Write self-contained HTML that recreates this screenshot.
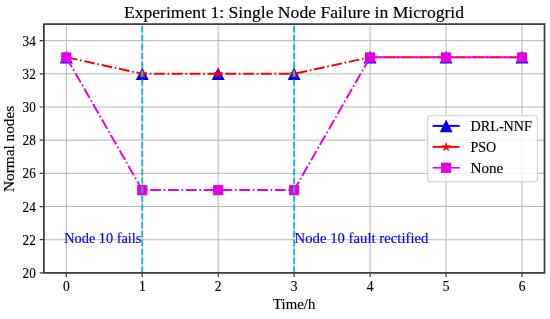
<!DOCTYPE html>
<html><head><meta charset="utf-8"><title>Experiment 1: Single Node Failure in Microgrid</title>
<style>html,body{margin:0;padding:0;background:#fff;overflow:hidden}svg{display:block}</style>
</head><body>
<svg width="550" height="319" viewBox="0 0 550 319" font-family="'Liberation Serif', 'DejaVu Serif', serif"><style>text{stroke-width:0.15px;paint-order:stroke}</style><rect width="550" height="319" fill="#fff"/><path d="M66.30 24.05V272.90M142.25 24.05V272.90M218.20 24.05V272.90M294.15 24.05V272.90M370.10 24.05V272.90M446.05 24.05V272.90M522.00 24.05V272.90M43.52 272.90H544.78M43.52 239.72H544.78M43.52 206.54H544.78M43.52 173.36H544.78M43.52 140.18H544.78M43.52 107.00H544.78M43.52 73.82H544.78M43.52 40.64H544.78" stroke="#b8b8b8" stroke-width="1.0" fill="none"/><path d="M66.30 50.93L59.80 63.53H72.80Z" fill="#0000ff"/><path d="M142.25 67.52L135.75 80.12H148.75Z" fill="#0000ff"/><path d="M218.20 67.52L211.70 80.12H224.70Z" fill="#0000ff"/><path d="M294.15 67.52L287.65 80.12H300.65Z" fill="#0000ff"/><path d="M370.10 50.93L363.60 63.53H376.60Z" fill="#0000ff"/><path d="M446.05 50.93L439.55 63.53H452.55Z" fill="#0000ff"/><path d="M522.00 50.93L515.50 63.53H528.50Z" fill="#0000ff"/><polyline points="66.30,57.23 142.25,73.82 218.20,73.82 294.15,73.82 370.10,57.23 446.05,57.23 522.00,57.23" fill="none" stroke="#ff0000" stroke-width="1.95" stroke-dasharray="10.758 2.690 1.681 2.690" stroke-dashoffset="-0.5"/><polygon points="66.30,52.98 65.30,56.05 62.07,56.05 64.68,57.96 63.68,61.03 66.30,59.13 68.92,61.03 67.92,57.96 70.53,56.05 67.30,56.05" fill="#ff0000" stroke="#ff0000" stroke-width="0.6" stroke-linejoin="miter"/><polygon points="142.25,69.57 141.25,72.64 138.02,72.64 140.63,74.55 139.63,77.62 142.25,75.72 144.87,77.62 143.87,74.55 146.48,72.64 143.25,72.64" fill="#ff0000" stroke="#ff0000" stroke-width="0.6" stroke-linejoin="miter"/><polygon points="218.20,69.57 217.20,72.64 213.97,72.64 216.58,74.55 215.58,77.62 218.20,75.72 220.82,77.62 219.82,74.55 222.43,72.64 219.20,72.64" fill="#ff0000" stroke="#ff0000" stroke-width="0.6" stroke-linejoin="miter"/><polygon points="294.15,69.57 293.15,72.64 289.92,72.64 292.53,74.55 291.53,77.62 294.15,75.72 296.77,77.62 295.77,74.55 298.38,72.64 295.15,72.64" fill="#ff0000" stroke="#ff0000" stroke-width="0.6" stroke-linejoin="miter"/><polygon points="370.10,52.98 369.10,56.05 365.87,56.05 368.48,57.96 367.48,61.03 370.10,59.13 372.72,61.03 371.72,57.96 374.33,56.05 371.10,56.05" fill="#ff0000" stroke="#ff0000" stroke-width="0.6" stroke-linejoin="miter"/><polygon points="446.05,52.98 445.05,56.05 441.82,56.05 444.43,57.96 443.43,61.03 446.05,59.13 448.67,61.03 447.67,57.96 450.28,56.05 447.05,56.05" fill="#ff0000" stroke="#ff0000" stroke-width="0.6" stroke-linejoin="miter"/><polygon points="522.00,52.98 521.00,56.05 517.77,56.05 520.38,57.96 519.38,61.03 522.00,59.13 524.62,61.03 523.62,57.96 526.23,56.05 523.00,56.05" fill="#ff0000" stroke="#ff0000" stroke-width="0.6" stroke-linejoin="miter"/><polyline points="66.30,57.23 142.25,189.95 218.20,189.95 294.15,189.95 370.10,57.23 446.05,57.23 522.00,57.23" fill="none" stroke="#e600e6" stroke-width="1.95" stroke-dasharray="10.758 2.690 1.681 2.690" stroke-dashoffset="-0.5"/><rect x="61.20" y="52.33" width="10.2" height="10.2" fill="#e400e4"/><rect x="137.15" y="185.05" width="10.2" height="10.2" fill="#e400e4"/><rect x="213.10" y="185.05" width="10.2" height="10.2" fill="#e400e4"/><rect x="289.05" y="185.05" width="10.2" height="10.2" fill="#e400e4"/><rect x="365.00" y="52.33" width="10.2" height="10.2" fill="#e400e4"/><rect x="440.95" y="52.33" width="10.2" height="10.2" fill="#e400e4"/><rect x="516.90" y="52.33" width="10.2" height="10.2" fill="#e400e4"/><path d="M142.25 272.90V24.05" stroke="#17becf" stroke-width="2.0" stroke-dasharray="6.220 2.690"/><path d="M294.15 272.90V24.05" stroke="#17becf" stroke-width="2.0" stroke-dasharray="6.220 2.690"/><text x="64.3" y="242.6" font-size="14.3" fill="#0000ff" stroke="#0000ff">Node 10 fails</text><text x="294.6" y="242.6" font-size="14.3" fill="#0000ff" stroke="#0000ff" textLength="133.8" lengthAdjust="spacingAndGlyphs">Node 10 fault rectified</text><rect x="43.90" y="24.10" width="500.60" height="248.80" fill="none" stroke="#3a3a3a" stroke-width="1.7"/><path d="M66.30 272.90v4.2M142.25 272.90v4.2M218.20 272.90v4.2M294.15 272.90v4.2M370.10 272.90v4.2M446.05 272.90v4.2M522.00 272.90v4.2M43.90 272.90h-4.2M43.90 239.72h-4.2M43.90 206.54h-4.2M43.90 173.36h-4.2M43.90 140.18h-4.2M43.90 107.00h-4.2M43.90 73.82h-4.2M43.90 40.64h-4.2" stroke="#3a3a3a" stroke-width="1.2"/><text x="66.30" y="291" font-size="15.0" text-anchor="middle" fill="#000" stroke="#000" textLength="6.75" lengthAdjust="spacingAndGlyphs">0</text><text x="142.25" y="291" font-size="15.0" text-anchor="middle" fill="#000" stroke="#000" textLength="6.75" lengthAdjust="spacingAndGlyphs">1</text><text x="218.20" y="291" font-size="15.0" text-anchor="middle" fill="#000" stroke="#000" textLength="6.75" lengthAdjust="spacingAndGlyphs">2</text><text x="294.15" y="291" font-size="15.0" text-anchor="middle" fill="#000" stroke="#000" textLength="6.75" lengthAdjust="spacingAndGlyphs">3</text><text x="370.10" y="291" font-size="15.0" text-anchor="middle" fill="#000" stroke="#000" textLength="6.75" lengthAdjust="spacingAndGlyphs">4</text><text x="446.05" y="291" font-size="15.0" text-anchor="middle" fill="#000" stroke="#000" textLength="6.75" lengthAdjust="spacingAndGlyphs">5</text><text x="522.00" y="291" font-size="15.0" text-anchor="middle" fill="#000" stroke="#000" textLength="6.75" lengthAdjust="spacingAndGlyphs">6</text><text x="35.8" y="277.90" font-size="15.0" text-anchor="end" fill="#000" stroke="#000" textLength="13.20" lengthAdjust="spacingAndGlyphs">20</text><text x="35.8" y="244.72" font-size="15.0" text-anchor="end" fill="#000" stroke="#000" textLength="13.20" lengthAdjust="spacingAndGlyphs">22</text><text x="35.8" y="211.54" font-size="15.0" text-anchor="end" fill="#000" stroke="#000" textLength="13.20" lengthAdjust="spacingAndGlyphs">24</text><text x="35.8" y="178.36" font-size="15.0" text-anchor="end" fill="#000" stroke="#000" textLength="13.20" lengthAdjust="spacingAndGlyphs">26</text><text x="35.8" y="145.18" font-size="15.0" text-anchor="end" fill="#000" stroke="#000" textLength="13.20" lengthAdjust="spacingAndGlyphs">28</text><text x="35.8" y="112.00" font-size="15.0" text-anchor="end" fill="#000" stroke="#000" textLength="13.20" lengthAdjust="spacingAndGlyphs">30</text><text x="35.8" y="78.82" font-size="15.0" text-anchor="end" fill="#000" stroke="#000" textLength="13.20" lengthAdjust="spacingAndGlyphs">32</text><text x="35.8" y="45.64" font-size="15.0" text-anchor="end" fill="#000" stroke="#000" textLength="13.20" lengthAdjust="spacingAndGlyphs">34</text><text x="294.2" y="308.8" font-size="14.8" text-anchor="middle" fill="#000" stroke="#000">Time/h</text><text transform="translate(13.5 148.9) rotate(-90)" font-size="15.3" text-anchor="middle" fill="#000" stroke="#000" textLength="86" lengthAdjust="spacingAndGlyphs">Normal nodes</text><text x="294" y="17.5" font-size="17.6" text-anchor="middle" fill="#000" stroke="#000">Experiment 1: Single Node Failure in Microgrid</text><rect x="427.7" y="115.7" width="109.7" height="66" rx="2.8" fill="#fff" fill-opacity="0.8" stroke="#d0d0d0" stroke-width="1.1"/><path d="M432.6 125.9H459.7" stroke="#0000ff" stroke-width="1.95"/><path d="M446.15 119.60L439.65 132.20H452.65Z" fill="#0000ff"/><path d="M432.6 146.9H459.7" stroke="#ff0000" stroke-width="1.95"/><polygon points="446.15,142.65 445.15,145.72 441.92,145.72 444.53,147.63 443.53,150.70 446.15,148.80 448.77,150.70 447.77,147.63 450.38,145.72 447.15,145.72" fill="#ff0000" stroke="#ff0000" stroke-width="0.6"/><path d="M432.6 167.8H459.7" stroke="#e600e6" stroke-width="1.6"/><rect x="441.05" y="162.70" width="10.2" height="10.2" fill="#e400e4"/><text x="470.5" y="130.7" font-size="14" fill="#000" stroke="#000" textLength="61.5" lengthAdjust="spacingAndGlyphs">DRL-NNF</text><text x="470.5" y="151.8" font-size="14" fill="#000" stroke="#000">PSO</text><text x="470.5" y="172.7" font-size="14" fill="#000" stroke="#000" textLength="32.8" lengthAdjust="spacingAndGlyphs">None</text></svg>
</body></html>
